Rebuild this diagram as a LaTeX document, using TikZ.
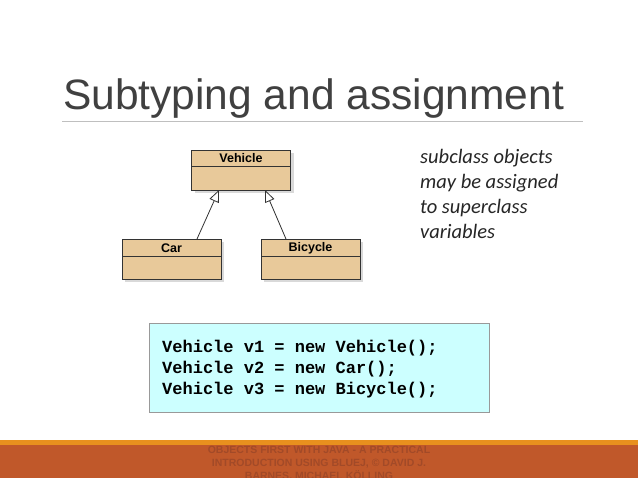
\documentclass[tikz,border=0pt]{standalone}
\usepackage{fontspec}
\setmainfont{Liberation Sans}
\newfontfamily\carlitofont{Carlito}
\newfontfamily\monofont{Liberation Mono}
\usetikzlibrary{arrows.meta}
\definecolor{boxfill}{HTML}{E8C99A}
\definecolor{codefill}{HTML}{CCFFFF}
\definecolor{footbg}{HTML}{C0582A}
\definecolor{footline}{HTML}{E8901E}
\definecolor{foottext}{HTML}{A24A28}
\tikzset{
  cls/.style={draw=black!80,fill=boxfill,minimum width=99pt,minimum height=40pt,inner sep=0pt},
  inh/.style={draw=black!80,thick,-{Triangle[open,length=12pt,width=10pt,fill=white]}}
}
\begin{document}
\begin{tikzpicture}[x=1pt,y=-1pt]
\useasboundingbox (0,0) rectangle (638,478);
\fill[white] (0,0) rectangle (638,478);
\node[anchor=base west,text=black!75,font=\fontsize{42.5}{42.5}\selectfont,inner sep=0pt] (title) at (63,110) {Subtyping and assignment};
\draw[black!25] (62,121) -- (583,121);
% classes
\node[cls,draw=none,fill=black!15,xshift=3pt,yshift=-3pt] at (241,170) {};
\node[cls,draw=none,fill=black!15,xshift=3pt,yshift=-3pt] at (171.5,259) {};
\node[cls,draw=none,fill=black!15,xshift=3pt,yshift=-3pt] at (310.5,259) {};
\node[cls] (veh) at (241,170) {};
\node[cls] (car) at (171.5,259) {};
\node[cls] (bic) at (310.5,259) {};
\draw[black!80] (191,166) -- (291,166);
\draw[black!80] (122,256) -- (221,256);
\draw[black!80] (261,256) -- (360,256);
\node[font=\bfseries\fontsize{12.5}{12.5}\selectfont] (vt) at (241,158) {Vehicle};
\node[font=\bfseries\fontsize{12.5}{12.5}\selectfont] (ct) at (171.5,248) {Car};
\node[font=\bfseries\fontsize{12.5}{12.5}\selectfont] (bt) at (310.5,248) {Bicycle};
\coordinate (va) at (219,190);
\coordinate (vb) at (265,190);
\draw[inh] (197,239) -- (va);
\draw[inh] (286,239) -- (vb);
% italic text
\node[anchor=north west,align=left,text=black!85,font=\carlitofont\itshape\fontsize{20.5}{25}\selectfont,inner sep=0pt] (note) at (420,149) {subclass objects\\may be assigned\\to superclass\\variables};
% code box
\node[draw=black!40,fill=codefill,minimum width=340pt,minimum height=89pt,inner sep=0pt] (code) at (319,367.5) {};
\node[anchor=west,align=left,font=\monofont\bfseries\fontsize{17}{21}\selectfont,inner sep=0pt] (ctext) at (162,369) {Vehicle v1 = new Vehicle();\\Vehicle v2 = new Car();\\Vehicle v3 = new Bicycle();};
% footer
\fill[footline] (0,440) rectangle (638,445);
\fill[footbg] (0,445) rectangle (638,478);
\begin{scope}
\clip (0,440) rectangle (638,478);
\node[anchor=north,align=center,text=foottext,font=\bfseries\fontsize{10.5}{13}\selectfont,inner sep=0pt] (foot) at (319,446) {OBJECTS FIRST WITH JAVA - A PRACTICAL\\INTRODUCTION USING BLUEJ, © DAVID J.\\BARNES, MICHAEL KÖLLING};
\end{scope}
\end{tikzpicture}
\end{document}
